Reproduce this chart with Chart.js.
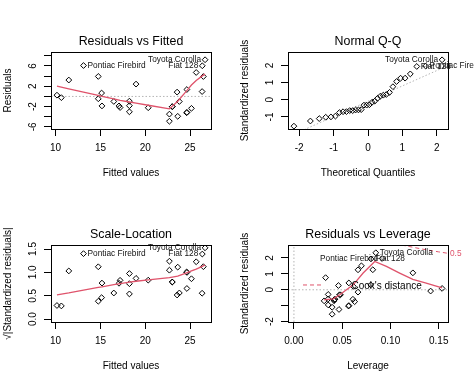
<!DOCTYPE html>
<html>
<head>
<meta charset="utf-8">
<script src="https://cdn.jsdelivr.net/npm/chart.js@4.4.0/dist/chart.umd.min.js"></script>
<style>
  body { margin: 0; background: #fff; }
  #wrap { position: relative; width: 474px; height: 387px; overflow: hidden; background: #fff; }
  canvas { position: absolute; }
</style>
</head>
<body>
<div id="wrap">
  <canvas id="p1" width="237" height="194" style="left:0px;top:0px"></canvas>
  <canvas id="p2" width="237" height="194" style="left:237px;top:0px"></canvas>
  <canvas id="p3" width="237" height="194" style="left:0px;top:193px"></canvas>
  <canvas id="p4" width="237" height="194" style="left:237px;top:193px"></canvas>
</div>
<script>
// lm(mpg ~ disp) diagnostics (mtcars row order)
const fitted = [23.01, 23.01, 25.15, 18.97, 14.76, 20.33, 14.76, 23.55, 23.80, 22.69, 22.69, 18.23, 18.23, 18.23, 10.15, 10.64,
  11.47, 26.36, 26.48, 26.67, 24.65, 16.49, 17.07, 15.17, 13.11, 26.34, 24.64, 25.68, 15.13, 23.62, 17.19, 24.61];
const resid = [-2.01, -2.01, -2.35, 2.43, 3.94, -2.23, -0.46, 0.85, -1.00, -3.49, -4.89, -1.83, -0.93, -3.03, 0.25, -0.24,
  3.23, 6.04, 3.92, 7.23, -3.15, -0.99, -1.87, -1.87, 6.09, 0.96, 1.36, 4.72, 0.67, -3.92, -2.19, -3.21];
const stdRes = [-0.630, -0.630, -0.746, 0.761, 1.254, -0.696, -0.147, 0.266, -0.314, -1.096, -1.535, -0.574, -0.292, -0.950, 0.085, -0.080,
  1.063, 1.938, 1.258, 2.325, -0.998, -0.313, -0.588, -0.595, 1.964, 0.307, 0.430, 1.505, 0.212, -1.236, -0.689, -1.018];
const sqrtStdRes = [0.794, 0.794, 0.864, 0.872, 1.120, 0.834, 0.383, 0.516, 0.560, 1.047, 1.239, 0.758, 0.540, 0.975, 0.292, 0.283,
  1.031, 1.392, 1.122, 1.525, 0.999, 0.559, 0.767, 0.771, 1.401, 0.554, 0.656, 1.227, 0.460, 1.112, 0.830, 1.009];
const leverage = [0.0418, 0.0418, 0.0629, 0.0328, 0.0664, 0.0313, 0.0664, 0.0461, 0.0482, 0.0396, 0.0396, 0.0355, 0.0355, 0.0355, 0.1535, 0.1416,
  0.1232, 0.0798, 0.0817, 0.0848, 0.0570, 0.0472, 0.0425, 0.0611, 0.0914, 0.0796, 0.0569, 0.0699, 0.0616, 0.0467, 0.0416, 0.0565];

// normal Q-Q
const qqTheo = [-2.154, -1.675, -1.418, -1.230, -1.078, -0.947, -0.831, -0.725, -0.626, -0.533, -0.445, -0.360, -0.278, -0.197, -0.118, -0.039,
  0.039, 0.118, 0.197, 0.278, 0.360, 0.445, 0.533, 0.626, 0.725, 0.831, 0.947, 1.078, 1.230, 1.418, 1.675, 2.154];
const qqSample = [-1.535, -1.236, -1.096, -1.018, -0.998, -0.950, -0.746, -0.696, -0.689, -0.630, -0.630, -0.595, -0.588, -0.574, -0.314, -0.313,
  -0.292, -0.147, -0.080, 0.085, 0.212, 0.266, 0.307, 0.430, 0.761, 1.063, 1.254, 1.258, 1.505, 1.938, 1.964, 2.325];
const qqLineX = [-2.326, 2.326];
const qqLineY = [-2.16, 1.99];

// red smoothers
const smoothFitX = [10.15, 11.47, 13.11, 14.76, 15.17, 16.49, 17.19, 18.23, 18.97, 20.33, 22.69, 23.01, 23.62, 24.61, 25.15, 25.68, 26.36, 26.67];
const smoothResY = [2.04, 1.5, 0.85, 0.2, 0.03, -0.5, -0.79, -1.1, -1.33, -1.74, -2.45, -1.95, -0.95, 1.1, 2.25, 3.15, 4.05, 4.4];
const smoothSclY = [0.52, 0.56, 0.62, 0.68, 0.69, 0.74, 0.76, 0.79, 0.81, 0.84, 0.89, 0.9, 0.92, 0.99, 1.03, 1.07, 1.13, 1.16];
const smoothLevX = [0.0313, 0.0355, 0.0407, 0.0475, 0.0565, 0.0614, 0.0717, 0.0837, 0.0958, 0.1095, 0.1232, 0.137, 0.1535];
const smoothLevY = [-0.63, -0.6, -0.57, -0.31, 0.1, 0.31, 1.05, 1.78, 1.47, 1.05, 0.65, 0.42, 0.12];

// Cook's distance 0.5 contour
const cookX = [0.1115, 0.12, 0.13, 0.14, 0.15, 0.1596];
const cookY = [2.81, 2.71, 2.59, 2.48, 2.38, 2.29];

// labelled points
const idNames = ['Toyota Corolla', 'Fiat 128', 'Pontiac Firebird'];
const idRows = [19, 17, 24];
const idQQ = [31, 29, 30];
const idSideFit = ['left', 'left', 'right'];
const idSideQQ = ['left', 'right', 'right'];
const idSideLev = ['right', 'right', 'left'];

// axes
const fitXLim = [9.485, 27.33];
const fitXTicks = [10, 15, 20, 25];
const fitXLabels = ['10', '15', '20', '25'];
const resYLim = [-6.42, 8.76];
const resYTicks = [-6, -4, -2, 0, 2, 4, 6, 8];
const resYLabels = ['-6', '', '-2', '', '2', '', '6', ''];
const qqXLim = [-2.326, 2.326];
const qqXTicks = [-2, -1, 0, 1, 2];
const qqXLabels = ['-2', '-1', '0', '1', '2'];
const qqYLim = [-1.701, 2.781];
const qqYTicks = [-1, 0, 1, 2];
const qqYLabels = ['-1', '0', '1', '2'];
const sclYLim = [-0.061, 1.586];
const sclYTicks = [0, 0.5, 1, 1.5];
const sclYLabels = ['0.0', '0.5', '1.0', '1.5'];
const levXLim = [-0.00614, 0.1596];
const levXTicks = [0, 0.05, 0.10, 0.15];
const levXLabels = ['0.00', '0.05', '0.10', '0.15'];
const levYLim = [-2.023, 2.813];
const levYTicks = [-2, -1, 0, 1, 2];
const levYLabels = ['-2', '', '0', '1', '2'];

const RED = '#DF536B';
const GREY = '#b4b4b4';
const FONT = '"Liberation Sans", Arial, sans-serif';

Chart.defaults.font.family = FONT;
Chart.defaults.color = '#000';

function xy(xs, ys) {
  const out = [];
  for (var i = 0; i < xs.length; i++) out.push({x: xs[i], y: ys[i]});
  return out;
}

function pointsSet(data) {
  return { data: data, showLine: false, pointStyle: 'rectRot', pointRadius: 2.9,
    borderColor: '#000', borderWidth: 1, backgroundColor: 'rgba(0,0,0,0)' };
}
function lineSet(data, color, width, dash) {
  return { data: data, showLine: true, borderColor: color, borderWidth: width, borderDash: dash || [],
    pointRadius: 0, fill: false, tension: 0 };
}

function axis(lim, ticks, labels, title, isY, pad) {
  return {
    type: 'linear', min: lim[0], max: lim[1],
    afterBuildTicks: function(s) { s.ticks = ticks.map(function(v) { return {value: v}; }); },
    afterFit: function(s) { if (isY) s.width = 51; else s.height = 65; },
    grid: { drawOnChartArea: false, drawTicks: true, tickLength: 7, color: '#000', lineWidth: 1 },
    border: { display: false },
    ticks: {
      autoSkip: false, font: { size: 10 }, color: '#000', padding: pad,
      minRotation: isY ? 90 : 0, maxRotation: isY ? 90 : 0, crossAlign: isY ? 'center' : 'near',
      callback: function(v, i) { return labels[i]; }
    },
    title: { display: true, text: title, font: { size: 10 }, color: '#000',
      padding: isY ? { top: 2.3, bottom: 0 } : { top: 0, bottom: 14.7 } }
  };
}

// box, point ids, Cook's legend
const rPlot = {
  id: 'rplot',
  afterDatasetsDraw: function(chart, args, opts) {
    const ctx = chart.ctx, a = chart.chartArea;
    const xs = chart.scales.x, ys = chart.scales.y;
    ctx.save();
    ctx.strokeStyle = '#000';
    ctx.lineWidth = 1;
    ctx.strokeRect(Math.round(a.left) + 0.5, Math.round(a.top) + 0.5, Math.round(a.right - a.left), Math.round(a.bottom - a.top));
    ctx.font = '8.3px ' + FONT;
    ctx.fillStyle = '#111';
    ctx.textBaseline = 'middle';
    (opts.ids || []).forEach(function(d) {
      const px = xs.getPixelForValue(d.x), py = ys.getPixelForValue(d.y);
      if (d.side === 'left') { ctx.textAlign = 'right'; ctx.fillText(d.text, px - 4, py); }
      else { ctx.textAlign = 'left'; ctx.fillText(d.text, px + 4, py); }
    });
    if (opts.cook) {
      ctx.fillStyle = RED;
      ctx.textAlign = 'left';
      ctx.fillText('0.5', a.right + 2, ys.getPixelForValue(cookY[cookY.length - 1]));
      ctx.strokeStyle = RED;
      ctx.setLineDash([4, 3]);
      ctx.beginPath();
      ctx.moveTo(a.left + 15, a.top + 40);
      ctx.lineTo(a.left + 36, a.top + 40);
      ctx.stroke();
      ctx.setLineDash([]);
      ctx.fillStyle = '#000';
      ctx.font = '10px ' + FONT;
      ctx.fillText("Cook's distance", a.left + 63.5, a.top + 41);
    }
    ctx.restore();
  }
};

function ids(xsArr, ysArr, rows, sides) {
  const out = [];
  for (var i = 0; i < rows.length; i++) {
    out.push({ x: xsArr[rows[i]], y: ysArr[rows[i]], text: idNames[i], side: sides[i] });
  }
  return out;
}

function makePanel(id, title, datasets, xAxis, yAxis, extra) {
  return new Chart(document.getElementById(id), {
    type: 'scatter',
    data: { datasets: datasets },
    options: {
      responsive: false, animation: false, events: [], devicePixelRatio: 1,
      layout: { padding: { left: 0, right: 26, top: 0, bottom: 0 } },
      scales: { x: xAxis, y: yAxis },
      plugins: {
        legend: { display: false }, tooltip: { enabled: false },
        title: { display: true, text: title, fullSize: false, color: '#000',
          font: { size: 12.4, weight: 'normal', lineHeight: 1.2 }, padding: { top: 34.6, bottom: 2.5 } },
        rplot: extra
      }
    },
    plugins: [rPlot]
  });
}

window.onload = function() {
  makePanel('p1', 'Residuals vs Fitted', [
      lineSet(xy(smoothFitX, smoothResY), RED, 1.3),
      pointsSet(xy(fitted, resid)),
      lineSet([{x: fitXLim[0], y: 0}, {x: fitXLim[1], y: 0}], GREY, 1, [1.5, 2])
    ],
    axis(fitXLim, fitXTicks, fitXLabels, 'Fitted values', false, 6.3),
    axis(resYLim, resYTicks, resYLabels, 'Residuals', true, 6.25),
    { ids: ids(fitted, resid, idRows, idSideFit) });

  makePanel('p2', 'Normal Q-Q', [
      pointsSet(xy(qqTheo, qqSample)),
      lineSet(xy(qqLineX, qqLineY), GREY, 1, [1.5, 2])
    ],
    axis(qqXLim, qqXTicks, qqXLabels, 'Theoretical Quantiles', false, 6.3),
    axis(qqYLim, qqYTicks, qqYLabels, 'Standardized residuals', true, 6.25),
    { ids: ids(qqTheo, qqSample, idQQ, idSideQQ) });

  makePanel('p3', 'Scale-Location', [
      lineSet(xy(smoothFitX, smoothSclY), RED, 1.3),
      pointsSet(xy(fitted, sqrtStdRes))
    ],
    axis(fitXLim, fitXTicks, fitXLabels, 'Fitted values', false, 6.3),
    axis(sclYLim, sclYTicks, sclYLabels, '\u221A|Standardized residuals|', true, 3.75),
    { ids: ids(fitted, sqrtStdRes, idRows, idSideFit) });

  makePanel('p4', 'Residuals vs Leverage', [
      lineSet(xy(smoothLevX, smoothLevY), RED, 1.3),
      lineSet(xy(cookX, cookY), RED, 1, [4, 3]),
      pointsSet(xy(leverage, stdRes)),
      lineSet([{x: levXLim[0], y: 0}, {x: levXLim[1], y: 0}], GREY, 1, [1.5, 2]),
      lineSet([{x: 0, y: levYLim[0]}, {x: 0, y: levYLim[1]}], GREY, 1, [1.5, 2])
    ],
    axis(levXLim, levXTicks, levXLabels, 'Leverage', false, 6.3),
    axis(levYLim, levYTicks, levYLabels, 'Standardized residuals', true, 6.25),
    { ids: ids(leverage, stdRes, idRows, idSideLev), cook: true });
};
</script>
</body>
</html>
